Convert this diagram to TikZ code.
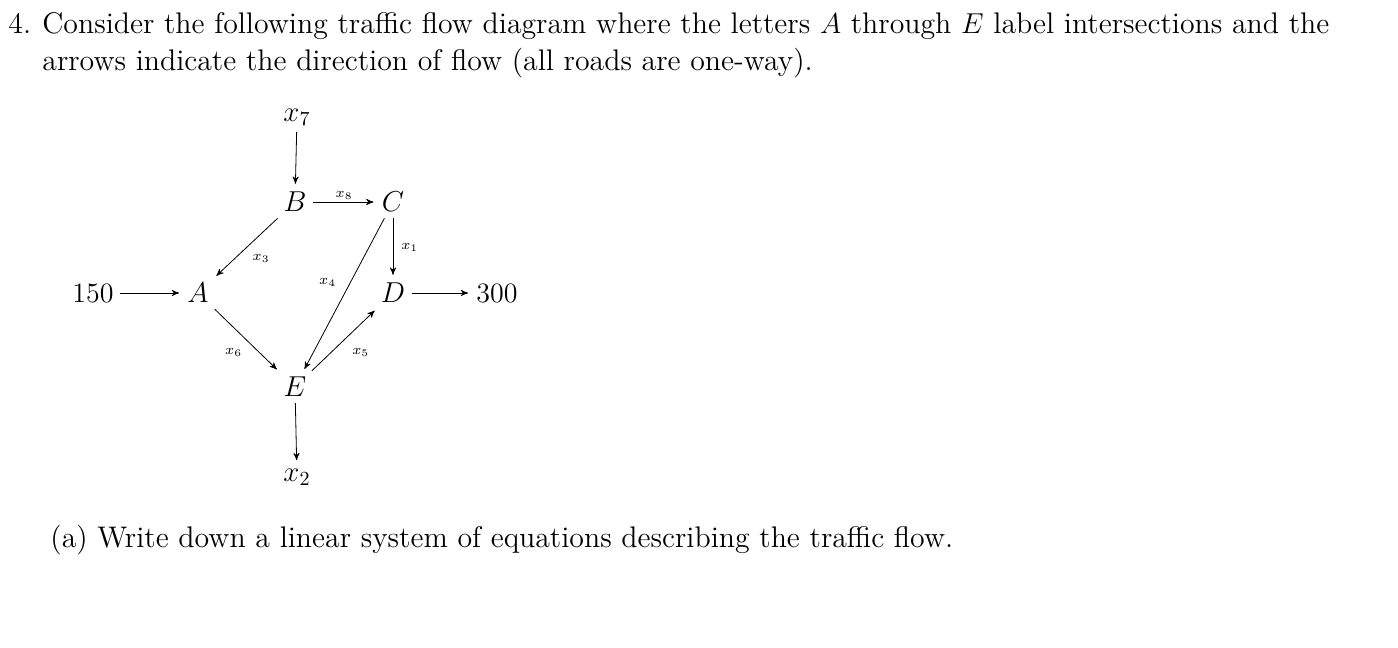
\documentclass[tikz,border=0pt]{standalone}
\usepackage{amsmath}
\usepackage{amssymb}
\usepackage{tikz}
\usetikzlibrary{arrows}

\begin{document}
\begin{tikzpicture}[x=0.5pt,y=-0.5pt,>=stealth',shorten >=1pt,auto,
    every node/.style={font=\fontsize{14}{18.5}\selectfont},
    textline/.style={anchor=base west,inner sep=0pt,font=\fontsize{14.9}{18.5}\selectfont},
    crossing/.style={inner sep=3pt},
    flowlbl/.style={font=\scriptsize,inner sep=1pt}]
    \useasboundingbox (0,0) rectangle (1398,648);
    % question text
    \node[textline] (num)   at (8,33)  {4.};
    \node[textline] (line1) at (42,33) {Consider the following traffic flow diagram where the letters $A$ through $E$ label intersections and the};
    \node[textline] (line2) at (42,70) {arrows indicate the direction of flow (all roads are one-way).};
    % intersections and ends
    \node[crossing] (A)    at (198,293) {$A$};
    \node[crossing] (B)    at (295,202) {$B$};
    \node[crossing] (C)    at (393,202) {$C$};
    \node[crossing] (D)    at (393,293) {$D$};
    \node[crossing] (E)    at (295,387) {$E$};
    \node[crossing] (in)   at (93,293)  {150};
    \node[crossing] (out)  at (497,293) {300};
    \node[crossing] (top)  at (297,117) {$x_7$};
    \node[crossing] (bot)  at (297,477) {$x_2$};

    \path[->] (in)  edge (A)
              (D)   edge (out)
              (top) edge (B)
              (E)   edge (bot)
              (B)   edge node [flowlbl,above] {$x_8$} (C)
              (C)   edge node [flowlbl,right,xshift=3pt] {$x_1$} (D)
              (B)   edge node [flowlbl,below right,xshift=2pt,yshift=-2pt] {$x_3$} (A)
              (C)   edge node [flowlbl,left,pos=0.42,xshift=-6pt] {$x_4$} (E)
              (E)   edge node [flowlbl,below right,xshift=3pt,yshift=-3pt] {$x_5$} (D)
              (A)   edge node [flowlbl,below left,xshift=-1pt,yshift=-3pt] {$x_6$} (E);
    % part (a)
    \node[textline] (parta) at (50,547) {(a) Write down a linear system of equations describing the traffic flow.};
\end{tikzpicture}
\end{document}
